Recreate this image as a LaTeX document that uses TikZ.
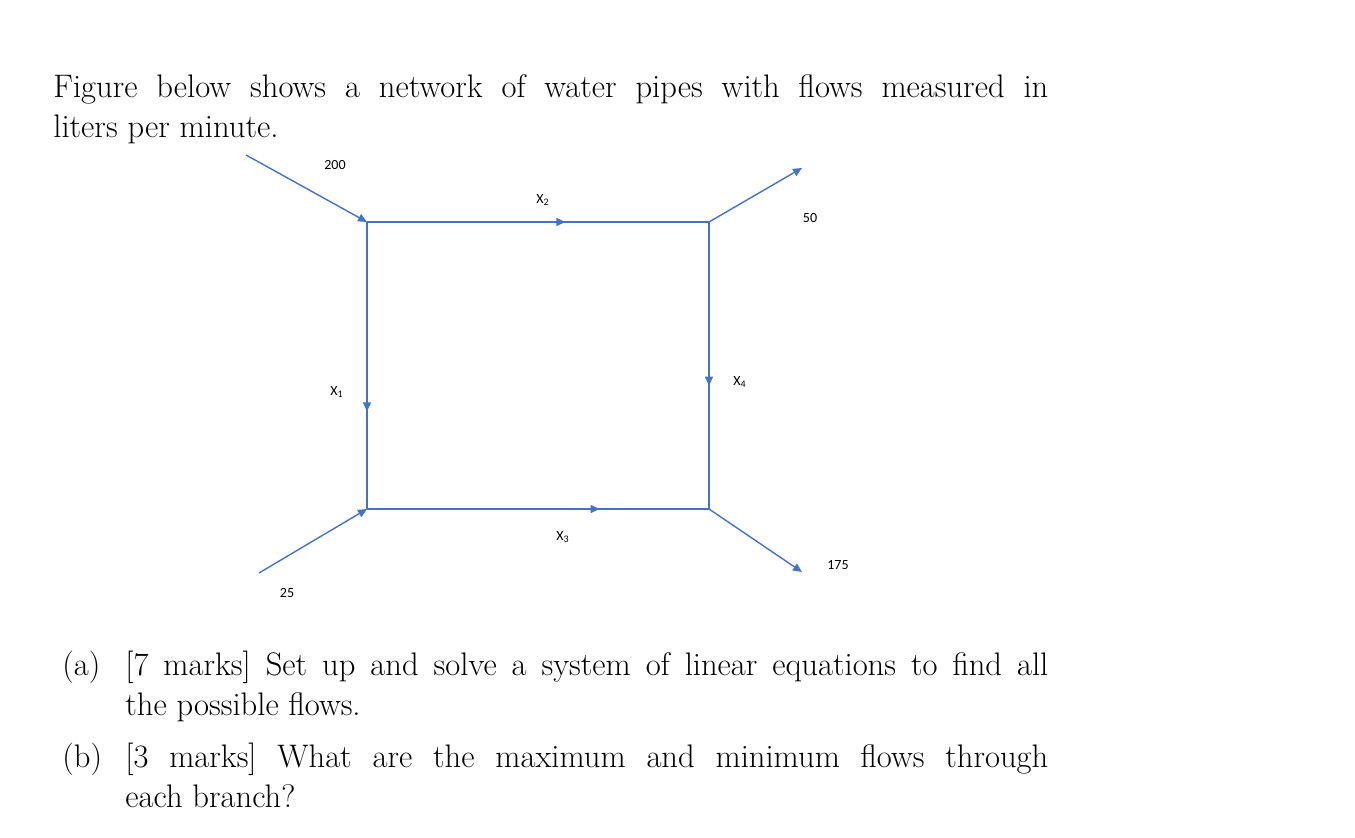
\documentclass[tikz,border=0pt]{standalone}
\usepackage{fontspec}
\newfontfamily\lab{Carlito}
\usetikzlibrary{arrows.meta,decorations.markings}
\definecolor{pipe}{HTML}{4472C4}
\tikzset{
  pipeline/.style={draw=pipe,line width=0.7pt},
  endarrow/.style={pipeline,-{Triangle[length=4.5pt,width=4pt]}},
  midarrow/.style={pipeline,decoration={markings,mark=at position #1 with {\arrow{Triangle[length=4.5pt,width=4pt]}}},postaction={decorate}},
  lbl/.style={font=\lab\fontsize{7}{8}\selectfont,inner sep=0pt},
  txt/.style={anchor=base west,inner sep=0pt,font=\fontsize{16.3}{20}\selectfont}
}
\begin{document}
\begin{tikzpicture}[x=0.5pt,y=-0.5pt]
\useasboundingbox (0,0) rectangle (1355,838);
\node[txt] (l1) at (53,98) {\makebox[497.5pt][s]{Figure below shows a network of water pipes with flows measured in}};
\node[txt] (l2) at (53,138) {liters per minute.};
\coordinate (tl) at (367,222);
\coordinate (tr) at (709,222);
\coordinate (bl) at (367,509);
\coordinate (br) at (709,509);
\coordinate (in1) at (246,155);
\coordinate (out1) at (802,168);
\coordinate (in2) at (259,573);
\coordinate (out2) at (802,572);
\draw[midarrow=0.58] (tl) -- (tr);
\draw[midarrow=0.66] (tl) -- (bl);
\draw[midarrow=0.57] (tr) -- (br);
\draw[midarrow=0.68] (bl) -- (br);
\draw[pipeline] (tr) -- (br);
\draw[endarrow] (in1) -- (tl);
\draw[endarrow] (tr) -- (out1);
\draw[endarrow] (in2) -- (bl);
\draw[endarrow] (br) -- (out2);
\node[lbl] (n200) at (335,165) {200};
\node[lbl] (n50) at (810,218) {50};
\node[lbl] (n25) at (287,593) {25};
\node[lbl] (n175) at (838,565) {175};
\node[lbl] (x1) at (337,392) {X\textsubscript{1}};
\node[lbl] (x2) at (543,200) {X\textsubscript{2}};
\node[lbl] (x3) at (563,537) {X\textsubscript{3}};
\node[lbl] (x4) at (740,382) {X\textsubscript{4}};
\node[txt] (a1) at (62,676) {(a)};
\node[txt] (a2) at (125,676) {\makebox[461.5pt][s]{[7 marks] Set up and solve a system of linear equations to find all}};
\node[txt] (a3) at (125,716) {the possible flows.};
\node[txt] (b1) at (62,768) {(b)};
\node[txt] (b2) at (125,768) {\makebox[461.5pt][s]{[3 marks] What are the maximum and minimum flows through}};
\node[txt] (b3) at (125,808) {each branch?};
\end{tikzpicture}
\end{document}
